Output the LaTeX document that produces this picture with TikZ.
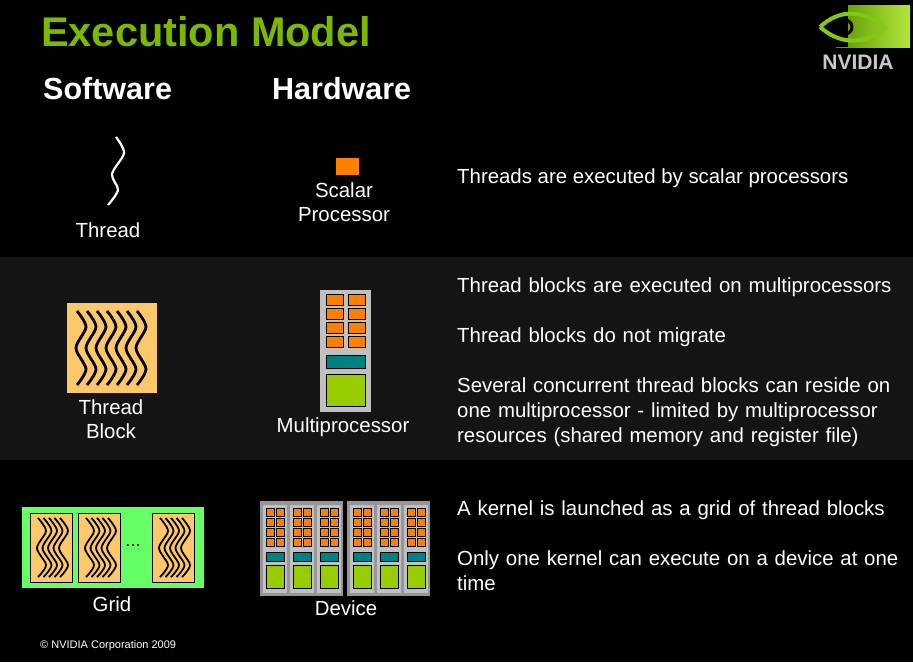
\documentclass[tikz,border=0pt]{standalone}
\usepackage{fontspec}
\setmainfont{Liberation Sans}
\begin{document}
\begin{tikzpicture}[x=1pt,y=-1pt,
  txt/.style={text=white,font=\fontsize{20.4}{25}\selectfont,inner sep=0pt},
  lbl/.style={text=white,font=\fontsize{20.4}{24.5}\selectfont,inner sep=0pt,align=center},
  head/.style={text=white,font=\bfseries\fontsize{30.5}{31}\selectfont,inner sep=0pt},
  para/.style={txt,align=left,anchor=north west,text width=452pt},
  wave/.style={line width=2.8pt,black},
  tblock/.pic={
    \fill[fill={rgb,255:red,253;green,200;blue,106}] (0,0) rectangle (90,90);
    \foreach \i in {0,...,6}{
      \draw[wave] plot[smooth] coordinates {(10+\i*10,8) (19+\i*10,24) (9+\i*10,45) (19+\i*10,66) (10+\i*10,82)};}
  },
  gblock/.pic={
    \fill[fill={rgb,255:red,253;green,200;blue,106},draw=black,line width=0.8pt] (0,0) rectangle (42,69);
    \foreach \i in {0,...,4}{
      \draw[line width=1.8pt] plot[smooth] coordinates {(8+\i*5.5,5) (16+\i*5.5,18) (7+\i*5.5,35) (16+\i*5.5,52) (8+\i*5.5,64)};}
  },
  mp/.pic={
    \fill[fill={rgb,255:red,192;green,192;blue,192}] (0,0) rectangle (51,122);
    \foreach \r in {0,...,3}{
      \foreach \c in {0,1}{
        \filldraw[fill={rgb,255:red,255;green,128;blue,0},draw=black,line width=0.6pt] (6+\c*22,4+\r*14) rectangle (23+\c*22,15+\r*14);}}
    \filldraw[fill={rgb,255:red,0;green,128;blue,128},draw=black,line width=0.6pt] (6,65) rectangle (45,78);
    \filldraw[fill={rgb,255:red,153;green,204;blue,0},draw=black,line width=0.6pt] (6,84) rectangle (45,116);
  }]
\useasboundingbox (0,0) rectangle (913,662);
\fill[black] (0,0) rectangle (913,662);
\fill[fill={rgb,255:red,20;green,20;blue,20}] (0,257) rectangle (913,460);

\node[inner sep=0pt,anchor=west,text={rgb,255:red,122;green,185;blue,0},font=\bfseries\fontsize{41.5}{42}\selectfont] (title) at (41,32) {Execution Model};
\node[head,anchor=west] (sw) at (43,89) {Software};
\node[head,anchor=west] (hw) at (272,89) {Hardware};

\shade[left color={rgb,255:red,90;green,150;blue,0},right color={rgb,255:red,180;green,230;blue,60}] (836,5) rectangle (910,47);
\fill[black] (836,5) rectangle (848,47);
\draw[line width=4pt,color={rgb,255:red,130;green,200;blue,20}] (820,27) .. controls (840,8) and (865,10) .. (885,28) .. controls (865,45) and (840,45) .. (820,27);
\draw[line width=3pt,black] (845,27) circle (7);
\node[inner sep=0pt,font=\bfseries\fontsize{21}{21}\selectfont,text={rgb,255:red,200;green,200;blue,200}] (logo) at (858,62) {NVIDIA};

\draw[white,line width=2.2pt] plot[smooth] coordinates {(116,137) (124,153) (112,174) (118,190) (108,205)};
\node[lbl] (thr) at (108,230) {Thread};
\filldraw[fill={rgb,255:red,255;green,128;blue,0},draw=black,line width=0.6pt] (335,157) rectangle (359,175);
\node[lbl] (sp) at (344,202) {Scalar\\Processor};
\node[txt,anchor=west] (t1) at (457,178) {Threads are executed by scalar processors};

\pic at (67,303) {tblock};
\node[lbl] (tb) at (111,419) {Thread\\Block};
\pic at (320,290) {mp};
\node[lbl] (mpl) at (343,427) {Multiprocessor};
\node[para] (t2) at (457,278) {Thread blocks are executed on multiprocessors\\[25pt]Thread blocks do not migrate\\[25pt]Several concurrent thread blocks can reside on one multiprocessor - limited by multiprocessor resources (shared memory and register file)};

\fill[fill={rgb,255:red,102;green,255;blue,102}] (22,507) rectangle (204,588);
\pic at (30,513) {gblock};
\pic at (78,513) {gblock};
\pic at (152,513) {gblock};
\node[inner sep=0pt,text=black,font=\fontsize{18}{18}\selectfont] (dots) at (133,546) {...};
\node[lbl] (gl) at (112,604) {Grid};
\fill[fill={rgb,255:red,150;green,150;blue,150}] (260,501) rectangle (343,596);
\fill[fill={rgb,255:red,150;green,150;blue,150}] (347,501) rectangle (430,596);
\foreach \x in {263,290,317,350,377,404}{
  \pic[xscale=0.47,yscale=0.72] at (\x,505) {mp};}
\node[lbl] (dl) at (346,608) {Device};
\node[para] (t3) at (457,501) {A kernel is launched as a grid of thread blocks\\[25pt]Only one kernel can execute on a device at one time};

\node[inner sep=0pt,anchor=west,text=white,font=\fontsize{11}{11}\selectfont] (copy) at (40,646) {\textcopyright{} NVIDIA Corporation 2009};
\end{tikzpicture}
\end{document}
